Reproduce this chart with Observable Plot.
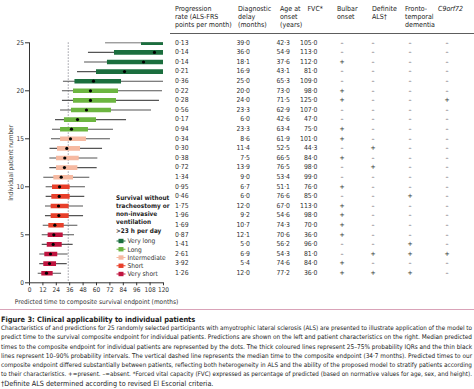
<!DOCTYPE html>
<html><head><meta charset="utf-8">
<script src="https://cdn.jsdelivr.net/npm/d3@7"></script>
<script src="https://cdn.jsdelivr.net/npm/@observablehq/plot@0.6"></script>
<style>
body{margin:0;background:#fff;}
#fig{width:474px;}
</style></head><body><div id="fig"></div>
<script>
const FONT = '"Liberation Sans Narrow","Arial Narrow","DejaVu Sans Condensed",Lato,sans-serif';

// patients listed top (25) to bottom (1)
const patient = [25,24,23,22,21,20,19,18,17,16,15,14,13,12,11,10,9,8,7,6,5,4,3,2,1];
const group = ["Very long","Very long","Very long","Very long","Very long",
  "Long","Long","Long","Long","Long",
  "Intermediate","Intermediate","Intermediate","Intermediate","Intermediate",
  "Short","Short","Short","Short","Short",
  "Very short","Very short","Very short","Very short","Very short"];
const p10 = [68.1,52.8,49.3,43.0,30.4,29.5,29.5,27.8,23.3,20.6,19.7,18.4,18.2,18.2,12.8,14.9,14.9,14.3,14.3,12.3,11.4,11.4,9.2,9.2,7.8];
const p25 = [100.3,76.1,69.8,60.0,40.7,39.4,39.4,37.6,31.3,27.8,27.8,25.1,24.2,24.2,21.8,20.6,20.0,19.4,19.4,17.3,16.7,15.9,13.7,12.8,11.0];
const median = [126,111.9,102.1,85.1,57.3,54.6,54.6,51.0,43.0,37.6,36.7,33.4,31.6,31.3,28.4,26.9,26.6,26.0,26.3,22.7,21.8,21.2,18.8,17.9,15.2];
const p75 = [120,120,120,120,82.4,79.7,77.9,73.4,60.0,52.8,51.0,45.7,44.5,43.3,39.4,36.4,36.4,35.5,35.5,31.1,30.2,29.3,25.3,24.2,21.2];
const p90 = [120,120,120,120,120,119.1,116.4,109.3,86.9,75.2,72.5,65.4,61.2,60.6,54.0,50.1,49.5,48.4,48.4,43.3,40.3,39.1,34.6,33.8,28.7];
const overallMedian = 34.7;

const progression = ["0·13","0·14","0·14","0·21","0·36","0·22","0·28","0·56","0·17","0·94","0·34","0·30","0·38","0·72","1·34","0·95","0·46","1·75","1·96","1·69","0·87","1·41","2·61","3·92","1·26"];
const delay = ["39·0","36·0","18·1","16·9","25·0","20·0","24·0","23·3","6·0","23·3","8·6","11·4","7·5","13·9","9·0","6·7","6·0","12·0","9·2","10·7","12·1","5·0","6·9","5·4","12·0"];
const age = ["42·3","54·9","37·6","43·1","65·3","73·0","71·5","62·9","42·6","63·4","61·9","52·5","66·5","76·5","53·4","51·1","76·6","67·0","54·6","74·3","70·6","56·2","54·3","74·6","77·2"];
const fvc = ["105·0","113·0","112·0","81·0","109·0","98·0","125·0","107·0","47·0","75·0","101·0","44·3","84·0","98·0","99·0","76·0","85·0","113·0","98·0","70·0","36·0","96·0","81·0","84·0","36·0"];
const bulbar =   ["–","–","+","–","–","+","+","–","–","+","+","–","+","–","–","+","–","+","+","+","+","–","–","+","+"];
const definite = ["–","–","–","–","–","–","–","–","–","–","–","+","–","+","–","–","–","–","–","–","–","–","+","–","+"];
const ftd =      ["–","–","–","–","–","–","–","–","–","–","–","–","–","–","–","–","+","–","–","–","–","+","+","–","+"];
const c9 =       ["–","–","–","–","–","–","+","–","–","–","–","–","–","–","–","–","–","–","–","–","–","–","+","–","–"];

const groupNames = ["Very long","Long","Intermediate","Short","Very short"];
const groupColors = ["#1b6e3e","#6cb540","#f6b9a1","#e8402b","#c0143f"];
const xTicks = [0,12,24,36,48,60,72,84,96,108,120];
const yTicks = [0,5,10,15,20,25];

const headers = [
  {x:175, lines:["Progression","rate (ALS-FRS","points per month)"]},
  {x:238, lines:["Diagnostic","delay","(months)"]},
  {x:280, lines:["Age at","onset","(years)"]},
  {x:307.5, lines:["FVC*"]},
  {x:337, lines:["Bulbar","onset"]},
  {x:372, lines:["Definite","ALS†"]},
  {x:405, lines:["Fronto-","temporal","dementia"]},
  {x:438, lines:["C9orf72"], italic:true}
];
const columns = [
  {vals:progression, x:175, anchor:"start"},
  {vals:delay, x:250, anchor:"end"},
  {vals:age, x:290, anchor:"end"},
  {vals:fvc, x:317.5, anchor:"end"},
  {vals:bulbar, x:342, anchor:"middle"},
  {vals:definite, x:373, anchor:"middle"},
  {vals:ftd, x:410, anchor:"middle"},
  {vals:c9, x:447, anchor:"middle"}
];
const legendTitle = ["Survival without","tracheostomy or","non-invasive","ventilation",">23 h per day"];
const caption = [
 "Characteristics of and predictions for 25 randomly selected participants with amyotrophic lateral sclerosis (ALS) are presented to illustrate application of the model to",
 "predict time to the survival composite endpoint for individual patients. Predictions are shown on the left and patient characteristics on the right. Median predicted",
 "times to the composite endpoint for individual patients are represented by the dots. The thick coloured lines represent 25–75% probability IQRs and the thin black",
 "lines represent 10–90% probability intervals. The vertical dashed line represents the median time to the composite endpoint (34·7 months). Predicted times to our",
 "composite endpoint differed substantially between patients, reflecting both heterogeneity in ALS and the ability of the proposed model to stratify patients according",
 "to their characteristics. +=present. –=absent. *Forced vital capacity (FVC) expressed as percentage of predicted (based on normative values for age, sex, and height).",
 "†Definite ALS determined according to revised El Escorial criteria."
];
const captionTitle = "Figure 3: Clinical applicability to individual patients";

const data = patient.map((p,i)=>({p, g:group[i], p10:p10[i], p25:p25[i], med:median[i], p75:p75[i], p90:p90[i]}));

const plot = Plot.plot({
  width: 474, height: 309,
  marginLeft: 29, marginRight: 311, marginTop: 42.3, marginBottom: 26.7,
  style: {fontFamily: FONT, fontSize: "6.5px", color: "#333", background: "#fff", overflow: "visible"},
  x: {domain:[0,120]},
  y: {domain:[0,25]},
  color: {domain: groupNames, range: groupColors},
  marks: [
    Plot.ruleX([overallMedian], {stroke:"#a0a0a8", strokeDasharray:"1.6,1.4", strokeWidth:1}),
    Plot.ruleY(data, {y:"p", x1:"p10", x2:"p90", stroke:"#555", strokeWidth:1.1, clip:true}),
    Plot.ruleY(data, {y:"p", x1:"p25", x2:"p75", stroke:"g", strokeWidth:4.6, clip:true}),
    Plot.dot(data, {x:"med", y:"p", r:1.6, fill:"#000", clip:true}),
    Plot.axisX({ticks:xTicks, tickSize:3, tickPadding:2, label:"Predicted time to composite survival endpoint (months)", labelAnchor:"center", labelArrow:"none", labelOffset:21}),
    Plot.axisY({ticks:yTicks, tickSize:4, tickPadding:1.5, label:"Individual patient number", labelAnchor:"center", labelArrow:"none", labelOffset:21}),
    Plot.ruleY([0], {stroke:"#333"}),
    Plot.ruleX([0], {stroke:"#333"})
  ]
});
document.getElementById("fig").appendChild(plot);

const y = plot.scale("y");
const svg = d3.select(plot);
const g = svg.append("g").attr("font-family", FONT).attr("fill", "#222").attr("text-anchor","start");

// table header
headers.forEach(h=>{
  h.lines.forEach((t,i)=>{
    g.append("text").attr("x", h.x).attr("y", 9 + i*7.8).attr("dy","0.35em").attr("font-size", 7)
      .attr("text-anchor","start").attr("font-style", h.italic ? "italic" : null).text(t);
  });
});
g.append("line").attr("x1",170).attr("x2",474).attr("y1",33.5).attr("y2",33.5).attr("stroke","#333").attr("stroke-width",0.8);

// table rows
columns.forEach(c=>{
  c.vals.forEach((v,i)=>{
    g.append("text").attr("x", c.x).attr("y", y.apply(patient[i])).attr("dy","0.35em")
      .attr("font-size", 6.8).attr("text-anchor", c.anchor).attr("fill","#333").text(v);
  });
});

// legend
legendTitle.forEach((t,i)=>{
  g.append("text").attr("x",116).attr("y",197.3 + i*8.25).attr("dy","0.35em").attr("text-anchor","start")
    .attr("font-size",6.4).attr("font-weight","bold").text(t);
});
groupNames.forEach((n,i)=>{
  const yy = 241 + i*8.25;
  g.append("line").attr("x1",116.5).attr("x2",125.5).attr("y1",yy).attr("y2",yy).attr("stroke",groupColors[i]).attr("stroke-width",1);
  g.append("rect").attr("x",118.5).attr("width",5).attr("y",yy-2.2).attr("height",4.4).attr("fill",groupColors[i]);
  g.append("text").attr("x",127.5).attr("y",yy).attr("dy","0.35em").attr("text-anchor","start").attr("font-size",6.6).attr("fill","#333").text(n);
});

// caption
const cap = d3.select("#fig").append("svg").attr("width",474).attr("height",80).style("display","block")
  .attr("font-family", FONT);
cap.append("line").attr("x1",0).attr("x2",474).attr("y1",0.5).attr("y2",0.5).attr("stroke","#d9a3b8").attr("stroke-width",1);
cap.append("text").attr("x",1).attr("y",10).attr("dy","0.35em").attr("font-size",7.4).attr("font-weight","bold").attr("fill","#222").text(captionTitle);
caption.forEach((t,i)=>{
  const tx = cap.append("text").attr("x",1).attr("y",19 + i*9.17).attr("dy","0.35em").attr("font-size",7.2).attr("fill","#222").text(t);
  const node = tx.node();
  let fs = 7.2;
  while (node.getComputedTextLength() > 471 && fs > 5) { fs -= 0.1; tx.attr("font-size", fs); }
  if (i < caption.length-1) tx.attr("textLength",471).attr("lengthAdjust","spacingAndGlyphs");
});
</script></body></html>
